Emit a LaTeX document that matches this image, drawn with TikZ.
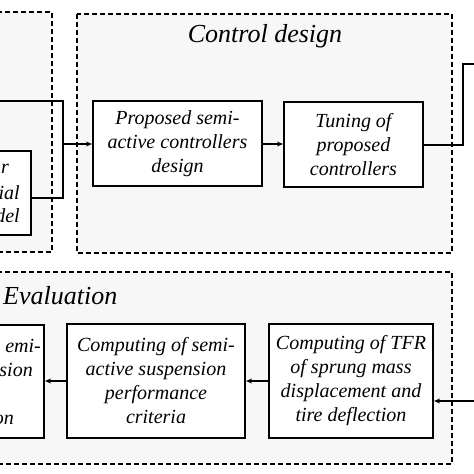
\documentclass[tikz,border=0pt]{standalone}
\usepackage{fontspec}
\setmainfont{Liberation Serif}
\usetikzlibrary{arrows.meta}
\definecolor{panel}{HTML}{F7F7F7}
\tikzset{
  panelbox/.style={draw=black, line width=1.3pt, dash pattern=on 5pt off 3pt, fill=panel},
  stepbox/.style={draw=black, line width=2.2pt, fill=white, align=center, inner sep=0pt,
     font=\itshape\fontsize{20}{24}\selectfont},
  frag/.style={inner sep=0pt, font=\itshape\fontsize{20}{24}\selectfont, anchor=base east},
  ttl/.style={inner sep=0pt, font=\itshape\fontsize{26}{30}\selectfont},
  conn/.style={line width=2pt},
  arr/.style={conn, -{Stealth[length=6pt,width=5pt]}}
}
\begin{document}
\begin{tikzpicture}[x=1pt,y=-1pt]
\useasboundingbox (0,0) rectangle (474,474);
% panels
\path[panelbox] (-10,12) rectangle (52,252);
\path[panelbox] (77,14) rectangle (452,253);
\path[panelbox] (-10,272) rectangle (452,464);
\node[ttl] (tctrl) at (265,36) {Control design};
\node[ttl, anchor=west] (teval) at (3,296) {Evaluation};
% control boxes
\node[stepbox, minimum width=169pt, minimum height=85pt] (prop) at (177.5,143.5) {Proposed semi-\\active controllers\\design};
\node[stepbox, minimum width=139pt, minimum height=85pt] (tune) at (353.5,144.5) {Tuning of\\proposed\\controllers};
% evaluation boxes
\node[stepbox, minimum width=164pt, minimum height=114pt] (tfr) at (351,381) {Computing of TFR\\of sprung mass\\displacement and\\tire deflection};
\node[stepbox, minimum width=178pt, minimum height=114pt] (crit) at (156,381) {Computing of semi-\\active suspension\\performance\\criteria};
% partial boxes on the left
\node[stepbox, minimum width=64pt, minimum height=113pt] (evl) at (12,381.5) {};
\node[frag] (f1) at (41,352) {emi-};
\node[frag] (f2) at (33,376) {sion};
\node[frag] (f3) at (14,424) {on};
\node[stepbox, minimum width=61pt, minimum height=84pt] (mdl) at (0.5,193) {};
\node[frag] (g1) at (9,173) {r};
\node[frag] (g2) at (20,199) {ial};
\node[frag] (g3) at (20,222) {del};
% connectors
\coordinate (ina) at (-5,101);
\coordinate (j) at (63,144);
\coordinate (jt) at (63,101);
\coordinate (jb) at (63,198);
\coordinate (outr) at (480,64);
\coordinate (inr) at (480,401);
\draw[conn] (ina) -- (jt) -- (jb) -- (mdl.east |- jb);
\draw[arr] (j) -- (prop.west |- j);
\draw[arr] (prop.east |- 0,144) -- (tune.west |- 0,144);
\draw[conn] (tune.east |- 0,145) -- (463,145) -- (463,64) -- (outr);
\draw[arr] (inr) -- (tfr.east |- inr);
\draw[arr] (tfr.west) -- (crit.east);
\draw[arr] (crit.west) -- (evl.east |- crit.west);
\end{tikzpicture}
\end{document}
